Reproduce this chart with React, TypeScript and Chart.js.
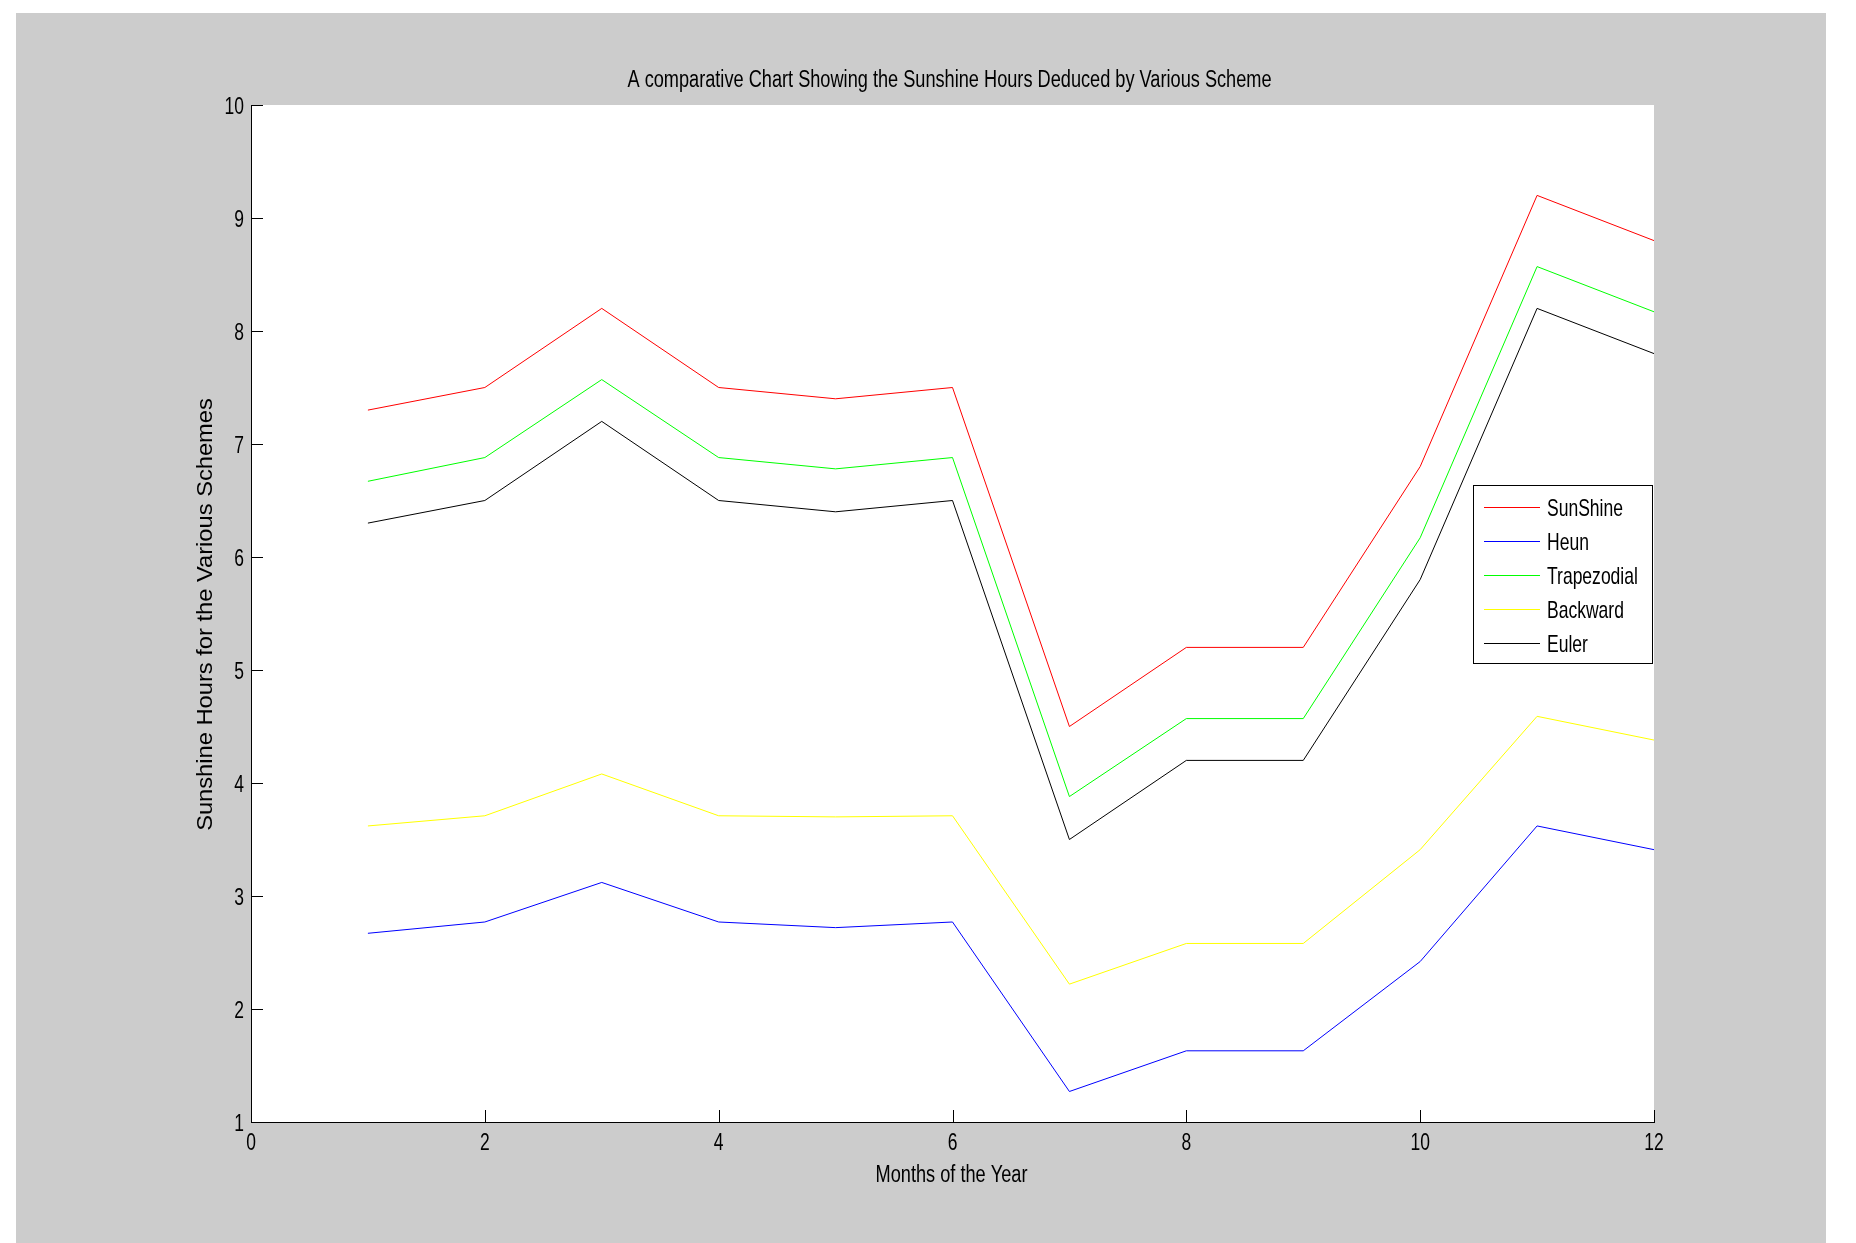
import React, { useEffect, useRef } from "react";
import { Chart, registerables } from "chart.js";

Chart.register(...registerables);

const months = [1, 2, 3, 4, 5, 6, 7, 8, 9, 10, 11, 12];
const sunShine = [7.3, 7.5, 8.2, 7.5, 7.4, 7.5, 4.5, 5.2, 5.2, 6.8, 9.2, 8.8];
const heun = [2.67, 2.77, 3.12, 2.77, 2.72, 2.77, 1.27, 1.63, 1.63, 2.42, 3.62, 3.41];
const trapezodial = [6.67, 6.88, 7.57, 6.88, 6.78, 6.88, 3.88, 4.57, 4.57, 6.17, 8.57, 8.17];
const backward = [3.62, 3.71, 4.08, 3.71, 3.7, 3.71, 2.22, 2.58, 2.58, 3.41, 4.59, 4.38];
const euler = [6.3, 6.5, 7.2, 6.5, 6.4, 6.5, 3.5, 4.2, 4.2, 5.8, 8.2, 7.8];

const seriesNames = ["SunShine", "Heun", "Trapezodial", "Backward", "Euler"];
const seriesValues = [sunShine, heun, trapezodial, backward, euler];
const seriesColors = ["#ff0000", "#0000ff", "#00ff00", "#ffff00", "#000000"];

const titleText = "A comparative Chart Showing the Sunshine Hours Deduced by Various Scheme";
const xTitle = "Months of the Year";
const yTitle = "Sunshine Hours for the Various Schemes";

const W = 1856;
const H = 1243;
const FONT = "'Liberation Sans', Arial, Helvetica, sans-serif";

function squishText(
  ctx: CanvasRenderingContext2D,
  text: string,
  x: number,
  y: number,
  size: number,
  k: number,
  align: CanvasTextAlign,
  baseline: CanvasTextBaseline = "alphabetic"
) {
  ctx.save();
  ctx.translate(x, y);
  ctx.scale(k, 1);
  ctx.font = `${size}px ${FONT}`;
  ctx.fillStyle = "#000";
  ctx.textAlign = align;
  ctx.textBaseline = baseline;
  ctx.fillText(text, 0, 0);
  ctx.restore();
}

const decorPlugin = {
  id: "matlabDecor",
  beforeDraw(chart: any) {
    const ctx = chart.ctx as CanvasRenderingContext2D;
    ctx.save();
    ctx.fillStyle = "#ffffff";
    ctx.fillRect(0, 0, W, H);
    ctx.fillStyle = "#cccccc";
    ctx.fillRect(16, 13, 1810, H - 13);
    const a = chart.chartArea;
    ctx.fillStyle = "#ffffff";
    ctx.fillRect(a.left, a.top, a.right - a.left, a.bottom - a.top);
    ctx.restore();
  },
  afterDraw(chart: any) {
    const ctx = chart.ctx as CanvasRenderingContext2D;
    const a = chart.chartArea;
    const xs = chart.scales.x;
    const ys = chart.scales.y;
    // inward tick marks
    ctx.save();
    ctx.strokeStyle = "#000";
    ctx.lineWidth = 1;
    ctx.beginPath();
    ys.ticks.forEach((t: any) => {
      const py = Math.round(ys.getPixelForValue(t.value)) + 0.5;
      ctx.moveTo(a.left, py);
      ctx.lineTo(a.left + 12, py);
    });
    xs.ticks.forEach((t: any) => {
      const px = Math.round(xs.getPixelForValue(t.value)) + 0.5;
      ctx.moveTo(px, a.bottom);
      ctx.lineTo(px, a.bottom - 12);
    });
    ctx.stroke();
    ctx.restore();

    // tick labels (condensed, from the scales' own ticks)
    ys.ticks.forEach((t: any) => {
      const py = ys.getPixelForValue(t.value);
      squishText(ctx, String(t.value), a.left - 7, py + 8.5, 23.3, 0.75, "right");
    });
    xs.ticks.forEach((t: any) => {
      const px = xs.getPixelForValue(t.value);
      squishText(ctx, String(t.value), px, a.bottom + 28, 23.3, 0.75, "center");
    });

    // titles
    const cx = (a.left + a.right) / 2;
    squishText(ctx, titleText, cx - 3, 87, 23.3, 0.78, "center");
    squishText(ctx, xTitle, cx - 1, 1182, 23.3, 0.78, "center");

    ctx.save();
    ctx.translate(212, (a.top + a.bottom) / 2 + 1);
    ctx.rotate(-Math.PI / 2);
    ctx.scale(1, 0.92);
    ctx.font = `23.7px ${FONT}`;
    ctx.fillStyle = "#000";
    ctx.textAlign = "center";
    ctx.textBaseline = "alphabetic";
    ctx.fillText(yTitle, 0, 0);
    ctx.restore();

    // legend
    const lx = 1473;
    const ly = 485;
    const lw = 179;
    const lh = 178;
    ctx.save();
    ctx.fillStyle = "#ffffff";
    ctx.fillRect(lx, ly, lw, lh);
    ctx.strokeStyle = "#000";
    ctx.lineWidth = 1;
    ctx.strokeRect(lx + 0.5, ly + 0.5, lw, lh);
    chart.data.datasets.forEach((ds: any, i: number) => {
      const rowY = 507 + i * 34;
      ctx.strokeStyle = ds.borderColor;
      ctx.beginPath();
      ctx.moveTo(1484, rowY + 0.5);
      ctx.lineTo(1540, rowY + 0.5);
      ctx.stroke();
      squishText(ctx, ds.label, 1547, rowY + 9, 24, 0.73, "left");
    });
    ctx.restore();
  },
};

export default function App() {
  const ref = useRef<HTMLCanvasElement | null>(null);

  useEffect(() => {
    if (!ref.current) return;
    const datasets = seriesNames.map((name, i) => ({
      label: name,
      data: months.map((m, j) => ({ x: m, y: seriesValues[i][j] })),
      borderColor: seriesColors[i],
      backgroundColor: seriesColors[i],
      borderWidth: 1,
      pointRadius: 0,
      tension: 0,
      fill: false,
    }));
    const chart = new Chart(ref.current, {
      type: "line",
      data: { datasets },
      plugins: [decorPlugin],
      options: {
        responsive: false,
        animation: false,
        devicePixelRatio: 1,
        layout: { padding: { left: 0, top: 105, right: 202, bottom: 0 } },
        plugins: {
          legend: { display: false },
          title: { display: false },
          tooltip: { enabled: false },
        },
        scales: {
          x: {
            type: "linear",
            min: 0,
            max: 12,
            ticks: { stepSize: 2, display: false },
            grid: { display: true, drawOnChartArea: false, drawTicks: false },
            border: { display: true, color: "#000", width: 1 },
            afterFit: (s: any) => {
              s.height = 121;
            },
          },
          y: {
            type: "linear",
            min: 1,
            max: 10,
            ticks: { stepSize: 1, display: false },
            grid: { display: true, drawOnChartArea: false, drawTicks: false },
            border: { display: true, color: "#000", width: 1 },
            afterFit: (s: any) => {
              s.width = 251;
            },
          },
        },
      } as any,
    });
    return () => chart.destroy();
  }, []);

  return (
    <div style={{ position: "fixed", left: 0, top: 0, width: W, height: H }}>
      <canvas ref={ref} width={W} height={H} style={{ display: "block" }} />
    </div>
  );
}
